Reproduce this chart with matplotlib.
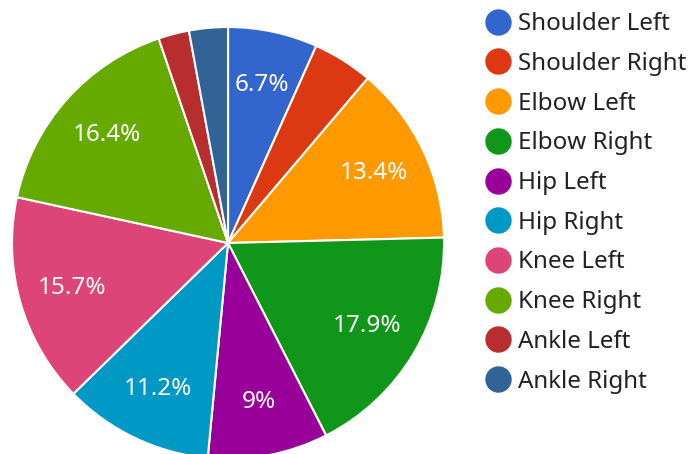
import matplotlib.pyplot as plt
from matplotlib.lines import Line2D

# joint share of readings
joints = ['Shoulder Left', 'Shoulder Right', 'Elbow Left', 'Elbow Right', 'Hip Left',
          'Hip Right', 'Knee Left', 'Knee Right', 'Ankle Left', 'Ankle Right']
shares = [6.7, 4.5, 13.4, 17.9, 9.0, 11.2, 15.7, 16.4, 2.3, 2.9]
colors = ['#3366cc', '#dc3912', '#ff9900', '#109618', '#990099',
          '#0099c6', '#dd4477', '#66aa00', '#b82e2e', '#316395']

plt.rcParams['font.family'] = ['Noto Sans', 'DejaVu Sans']

fig = plt.figure(figsize=(6.91, 4.54), dpi=100)
ax = fig.add_axes([0.0174, -0.011, 0.6252, 0.9515])


def fmt(pct):
    # small slices get no label, like the original
    if pct < 5:
        return ''
    return f'{pct:.1f}'.rstrip('0').rstrip('.') + '%'


wedges, texts, autotexts = ax.pie(
    shares, colors=colors, startangle=90, counterclock=False,
    autopct=fmt, pctdistance=0.75,
    wedgeprops=dict(edgecolor='white', linewidth=1.5),
    textprops=dict(color='white', fontsize=17.5))
ax.set_xlim(-1, 1)
ax.set_ylim(-1, 1)
ax.set_aspect('auto')
ax.axis('off')

handles = [Line2D([], [], marker='o', linestyle='none', markersize=18,
                  markerfacecolor=c, markeredgecolor=c) for c in colors]
fig.legend(handles, joints, loc='upper left', bbox_to_anchor=(0.671, 1.021),
           frameon=False, fontsize=17.4, handletextpad=0.3, labelspacing=0.65,
           handlelength=1.05, labelcolor='#222222')

fig.savefig('out.png', dpi=100)
